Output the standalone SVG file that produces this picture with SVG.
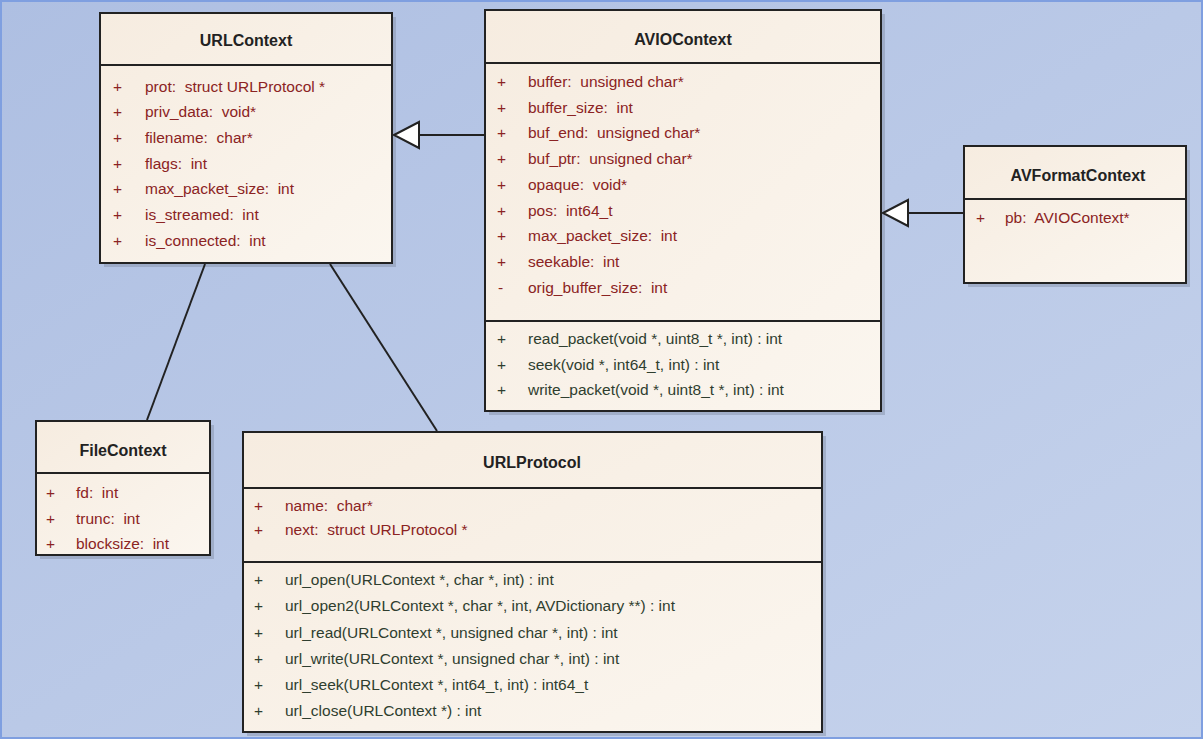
<svg xmlns="http://www.w3.org/2000/svg" width="1203" height="739" viewBox="0 0 1203 739">
<defs>
<linearGradient id="bg" x1="0" y1="0" x2="1" y2="1"><stop offset="0" stop-color="#aebfe2"/><stop offset="1" stop-color="#c6d3ec"/></linearGradient>
<linearGradient id="box" x1="0" y1="0" x2="1" y2="1"><stop offset="0" stop-color="#f6ece0"/><stop offset="1" stop-color="#fbf6ef"/></linearGradient>
<style>
.b{fill:url(#box);stroke:#222;stroke-width:2}
.sh{fill:#8592aa;opacity:.5}
.ln{stroke:#222;stroke-width:2;fill:none}
.hd{fill:#fff;stroke:#222;stroke-width:2}
text{font-family:"Liberation Sans",Arial,sans-serif;font-size:15.5px;white-space:pre}
.t{font-weight:bold;fill:#222;font-size:16px;text-anchor:middle}
.a{fill:#8b2323}
.o{fill:#2f3e2f}
</style>
</defs>
<rect x="0" y="0" width="1203" height="739" fill="url(#bg)"/>
<rect x="1" y="1" width="1201" height="737" fill="none" stroke="#7f9fe0" stroke-width="2"/>
<g id="URLContext">
<rect class="sh" x="104" y="17" width="292" height="250"/>
<rect class="b" x="100" y="13" width="292" height="250"/>
<line class="ln" x1="100" y1="65" x2="392" y2="65"/>
<text class="t" x="246" y="46">URLContext</text>
<g class="a">
<text x="113" y="92">+</text><text x="145" y="92">prot:  struct URLProtocol *</text>
<text x="113" y="117">+</text><text x="145" y="117">priv_data:  void*</text>
<text x="113" y="143">+</text><text x="145" y="143">filename:  char*</text>
<text x="113" y="169">+</text><text x="145" y="169">flags:  int</text>
<text x="113" y="194">+</text><text x="145" y="194">max_packet_size:  int</text>
<text x="113" y="220">+</text><text x="145" y="220">is_streamed:  int</text>
<text x="113" y="246">+</text><text x="145" y="246">is_connected:  int</text>
</g>
</g>
<g id="AVIOContext">
<rect class="sh" x="489" y="14" width="396" height="401"/>
<rect class="b" x="485" y="10" width="396" height="401"/>
<line class="ln" x1="485" y1="63" x2="881" y2="63"/>
<text class="t" x="683" y="45">AVIOContext</text>
<g class="a">
<text x="497" y="87">+</text><text x="528" y="87">buffer:  unsigned char*</text>
<text x="497" y="113">+</text><text x="528" y="113">buffer_size:  int</text>
<text x="497" y="138">+</text><text x="528" y="138">buf_end:  unsigned char*</text>
<text x="497" y="164">+</text><text x="528" y="164">buf_ptr:  unsigned char*</text>
<text x="497" y="190">+</text><text x="528" y="190">opaque:  void*</text>
<text x="497" y="216">+</text><text x="528" y="216">pos:  int64_t</text>
<text x="497" y="241">+</text><text x="528" y="241">max_packet_size:  int</text>
<text x="497" y="267">+</text><text x="528" y="267">seekable:  int</text>
<text x="498" y="293">-</text><text x="528" y="293">orig_buffer_size:  int</text>
</g>
<line class="ln" x1="485" y1="321" x2="881" y2="321"/>
<g class="o">
<text x="497" y="344">+</text><text x="528" y="344">read_packet(void *, uint8_t *, int) : int</text>
<text x="497" y="370">+</text><text x="528" y="370">seek(void *, int64_t, int) : int</text>
<text x="497" y="395">+</text><text x="528" y="395">write_packet(void *, uint8_t *, int) : int</text>
</g>
</g>
<g id="AVFormatContext">
<rect class="sh" x="968" y="150" width="222" height="137"/>
<rect class="b" x="964" y="146" width="222" height="137"/>
<line class="ln" x1="964" y1="199" x2="1186" y2="199"/>
<text class="t" x="1078" y="181">AVFormatContext</text>
<g class="a"><text x="976" y="223">+</text><text x="1005" y="223">pb:  AVIOContext*</text></g>
</g>
<g id="FileContext">
<rect class="sh" x="40" y="425" width="174" height="134"/>
<rect class="b" x="36" y="421" width="174" height="134"/>
<line class="ln" x1="36" y1="473" x2="210" y2="473"/>
<text class="t" x="123" y="456">FileContext</text>
<g class="a">
<text x="46" y="498">+</text><text x="76" y="498">fd:  int</text>
<text x="46" y="524">+</text><text x="76" y="524">trunc:  int</text>
<text x="46" y="549">+</text><text x="76" y="549">blocksize:  int</text>
</g>
</g>
<g id="URLProtocol">
<rect class="sh" x="247" y="436" width="579" height="300"/>
<rect class="b" x="243" y="432" width="579" height="300"/>
<line class="ln" x1="243" y1="488" x2="822" y2="488"/>
<text class="t" x="532" y="468">URLProtocol</text>
<g class="a">
<text x="254" y="511">+</text><text x="285" y="511">name:  char*</text>
<text x="254" y="535">+</text><text x="285" y="535">next:  struct URLProtocol *</text>
</g>
<line class="ln" x1="243" y1="562" x2="822" y2="562"/>
<g class="o">
<text x="254" y="585">+</text><text x="285" y="585">url_open(URLContext *, char *, int) : int</text>
<text x="254" y="611">+</text><text x="285" y="611">url_open2(URLContext *, char *, int, AVDictionary **) : int</text>
<text x="254" y="638">+</text><text x="285" y="638">url_read(URLContext *, unsigned char *, int) : int</text>
<text x="254" y="664">+</text><text x="285" y="664">url_write(URLContext *, unsigned char *, int) : int</text>
<text x="254" y="690">+</text><text x="285" y="690">url_seek(URLContext *, int64_t, int) : int64_t</text>
<text x="254" y="716">+</text><text x="285" y="716">url_close(URLContext *) : int</text>
</g>
</g>
<g id="connectors">
<line class="ln" x1="484" y1="135" x2="419" y2="135"/>
<polygon class="hd" points="394,135 419,122 419,148"/>
<line class="ln" x1="963" y1="213" x2="908" y2="213"/>
<polygon class="hd" points="883,213 908,200 908,226"/>
<line class="ln" x1="205" y1="264" x2="147" y2="420"/>
<line class="ln" x1="330" y1="264" x2="437" y2="431"/>
</g>
</svg>
